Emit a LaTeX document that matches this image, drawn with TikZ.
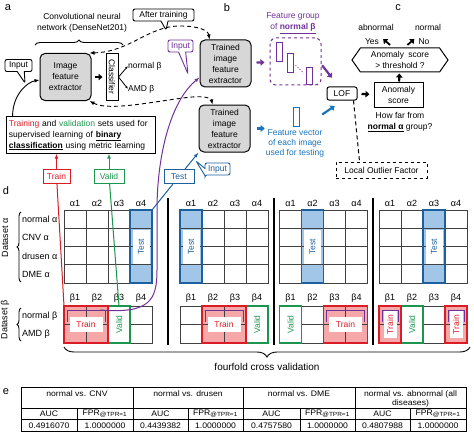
\documentclass[tikz,border=0pt]{standalone}
\usepackage{graphicx}
\usepackage{fontspec}
\setmainfont{Liberation Sans}
\newfontfamily\tabfont[FakeStretch=1.08]{Liberation Sans}
\usetikzlibrary{arrows.meta,decorations.pathreplacing,shapes.callouts,shapes.symbols}

\definecolor{trainred}{RGB}{218,28,38}
\definecolor{trainfill}{RGB}{246,168,168}
\definecolor{validgreen}{RGB}{28,150,78}
\definecolor{testblue}{RGB}{30,95,158}
\definecolor{testfill}{RGB}{162,198,232}
\definecolor{featpurple}{RGB}{112,50,152}
\definecolor{featblue}{RGB}{25,115,188}
\definecolor{boxgray}{RGB}{215,215,215}

\tikzset{
  txt/.style={font=\fontsize{8.5}{11}\selectfont, align=center, inner sep=0pt},
  small/.style={font=\fontsize{9}{11}\selectfont, inner sep=0pt},
  panel/.style={font=\fontsize{11}{13}\selectfont, inner sep=0pt},
  extractor/.style={txt, draw, rounded corners=5pt, fill=boxgray, line width=1pt, minimum width=51pt, minimum height=47pt},
  callbox/.style={txt, rectangle callout, draw, fill=white, rounded corners=2pt, line width=0.9pt, minimum height=12pt, inner xsep=2.5pt},
  fatarrow/.style={line width=2.2pt, -{Triangle[length=4pt,width=6.5pt]}, shorten <=#1, shorten >=#1},
  fatarrow/.default=3pt,
  dashlink/.style={line width=0.9pt, dash pattern=on 4pt off 3pt, {Latex[length=5pt,width=4pt]}-{Latex[length=5pt,width=4pt]}},
  curly/.style={decorate, decoration={brace, amplitude=#1}, line width=0.9pt},
  curly/.default=5pt,
  cellline/.style={draw=black!75, line width=0.6pt},
  tag/.style={txt, draw, fill=white, line width=0.9pt, minimum height=14pt},
  setlbl/.style={txt, fill=white},
  vec/.style={draw, line width=0.9pt, minimum width=6pt, minimum height=19pt, inner sep=0pt},
  tabtxt/.style={font=\tabfont\fontsize{8}{8.6}\selectfont, inner sep=0pt, align=center},
}

\begin{document}
\begin{tikzpicture}[x=1pt, y=1pt]
\useasboundingbox (0,0) rectangle (474,-444);

\node[panel] (pa) at (8,-8) {a};
\node[panel] (pb) at (227,-8) {b};
\node[panel] (pc) at (398,-8) {c};
\node[panel] (pd) at (6,-191) {d};
\node[panel] (pe) at (6,-392) {e};

\node[txt] (cnn) at (82,-23) {Convolutional neural\\network (DenseNet201)};
\draw[curly] (35,-45) -- (123,-45);

\node[extractor] (ife) at (65.5,-77) {Image\\feature\\extractor};
\node[txt, draw, line width=1pt, minimum width=12pt, minimum height=46pt] (cls) at (112,-77) {\rotatebox{-90}{Classifier}};
\draw[fatarrow] (ife) -- (cls);
\node[txt, anchor=west] (nb) at (128,-66) {normal β};
\node[txt, anchor=west] (amd) at (128,-89) {AMD β};
\draw[line width=0.8pt, -{Latex[length=3pt]}] (cls.east) -- (nb.west);
\draw[line width=0.8pt, -{Latex[length=3pt]}] (cls.east) -- (amd.west);

\node[extractor] (tfe1) at (225.5,-63.5) {Trained\\image\\feature\\extractor};
\node[extractor] (tfe2) at (224.5,-128.5) {Trained\\image\\feature\\extractor};

\node[callbox, callout absolute pointer={(166,-30)}, minimum width=61pt] (aft) at (163.5,-15) {After training};
\draw[dashlink] ([xshift=-2pt]ife.north east) .. controls (130,-52) and (148,-26) .. (180,-26) .. controls (198,-26) and (208,-30) .. ([xshift=10pt]tfe1.north west);
\draw[dashlink] ([xshift=-2pt]ife.south east) .. controls (110,-112) and (160,-100) .. (192,-97) .. controls (205,-96) and (211,-98) .. ([xshift=14pt]tfe2.north west);

\node[callbox, callout absolute pointer={(25,-83)}, minimum width=27pt] (in1) at (18.5,-65.5) {Input};
\node[txt, draw, line width=0.9pt, text width=143pt, align=left, inner sep=3pt, minimum height=36pt] (tbox) at (80.5,-135) {\textcolor{trainred}{Training} and \textcolor{validgreen}{validation} sets used for\\supervised learning of \underline{\textbf{binary}}\\\underline{\textbf{classification}} using metric learning};
\draw[line width=0.9pt, -{Latex[length=5pt]}] ([xshift=7pt]tbox.north west) .. controls +(0,22) and +(-12,-2) .. ([yshift=-3pt]ife.west);

\node[callbox, draw=featpurple, text=featpurple, callout absolute pointer={(188,-74)}, minimum width=25pt] (in2) at (180.5,-46) {Input};
\node[callbox, draw=testblue, text=testblue, callout absolute pointer={(196,-161)}, minimum width=25pt] (in3) at (217.5,-169) {Input};

\node[txt, text=featpurple] (fgl) at (293,-23) {Feature group\\of \underline{\textbf{normal β}}};
\node[draw=featpurple, dashed, line width=1pt, rounded corners=6pt, minimum width=51pt, minimum height=47pt, inner sep=0pt] (fg) at (295.5,-61.5) {};
\node[vec, draw=featpurple] (r1) at (279,-52) {};
\node[vec, draw=featpurple] (r2) at (290,-63) {};
\node[vec, draw=featpurple, minimum height=17pt] (r3) at (309.5,-75.5) {};
\draw[dotted, featpurple, line width=0.9pt, shorten <=3pt, shorten >=3pt] (r2.east) -- (r3.west);
\draw[fatarrow=5pt, featpurple] (tfe1) -- (fg);

\node[txt, draw, line width=1pt, rounded corners=2pt, minimum width=30pt, minimum height=13pt] (lof) at (342,-93.5) {LOF};
\draw[fatarrow=1pt, featpurple] ([yshift=-3pt]fg.east) -- ([xshift=6pt,yshift=8pt]lof.north west);

\node[txt, draw, line width=1pt, minimum width=49pt, minimum height=24pt] (scr) at (398.5,-95) {Anomaly\\score};
\draw[fatarrow=4pt] (lof) -- (scr);
\node[txt] (hf) at (400,-122) {How far from\\\underline{\textbf{normal α}} group?};
\node[txt, draw, line width=1pt, signal, signal to=east and west, signal pointer angle=110, minimum width=96pt, minimum height=24pt] (thr) at (400,-60) {Anomaly\enspace score\\> threshold ?};
\draw[fatarrow=1pt] (scr) -- (thr);
\node[txt] (abn) at (376,-27) {abnormal};
\node[txt] (nrm) at (428,-27) {normal};
\node[txt] (yes) at (372,-42) {Yes};
\node[txt] (no) at (424,-42) {No};
\draw[fatarrow=0pt, line width=1.8pt] ([xshift=11pt,yshift=-3pt]yes.east) -- ([xshift=4pt,yshift=3pt]yes.east);
\draw[fatarrow=0pt, line width=1.8pt] ([xshift=-11pt,yshift=-3pt]no.west) -- ([xshift=-4pt,yshift=3pt]no.west);

\node[vec, draw=featblue] (fv) at (296,-117) {};
\node[txt, text=featblue, font=\fontsize{8.5}{10}\selectfont] (fvl) at (295,-143) {Feature vector\\of each image\\used for testing};
\draw[fatarrow, featblue, shorten <=6pt, shorten >=1pt] (tfe2.east) -- (tfe2.east -| fvl.west);
\draw[fatarrow=1pt, featblue] ([xshift=22pt,yshift=2pt]fv.east) -- ([xshift=9pt,yshift=-5pt]lof.south west);

\node[txt, draw, dashed, line width=1pt, minimum width=91pt, minimum height=16pt] (lofl) at (381.5,-170) {Local Outlier Factor};
\draw[line width=1pt, dash pattern=on 4pt off 3pt] ([xshift=-4pt]lof.south east) -- ([xshift=-22pt]lofl.north);

\node[tag, draw=trainred, text=trainred, minimum width=27pt] (trn) at (56.5,-176) {Train};
\node[tag, draw=validgreen, text=validgreen, minimum width=30pt] (vld) at (109,-176) {Valid};
\node[tag, draw=testblue, text=testblue, minimum width=30pt] (tst) at (179,-176.5) {Test};

\node[small, anchor=west] (la1) at (22,-219) {normal α};
\node[small, anchor=west] (la2) at (22,-237) {CNV α};
\node[small, anchor=west] (la3) at (22,-256) {drusen α};
\node[small, anchor=west] (la4) at (22,-274) {DME α};
\node[small, anchor=west] (lb1) at (22,-316) {normal β};
\node[small, anchor=west] (lb2) at (22,-334) {AMD β};
\draw[curly=4pt] (21,-282) -- (21,-212);
\draw[curly=4pt] (21,-341) -- (21,-308);
\node[small, rotate=90] (dsa) at (5,-238) {Dataset α};
\node[small, rotate=90] (dsb) at (5,-320) {Dataset β};

\foreach \X/\tc/\vc/\trs [count=\f] in {64/4/3/{1/2}, 180/1/4/{2/3}, 279.5/2/1/{3/4}, 379/3/2/{1/1,4/4}}{
  \fill[testfill] (\X+22*\tc-22,-210) rectangle ++(22,-73);
  \foreach \a/\b in \trs
    \fill[trainfill] (\X+22*\a-22,-306) rectangle (\X+22*\b,-343);
  \foreach \k in {1,2,3,4}{
    \node[small] (ha\f\k) at (\X+22*\k-11,-203) {α\k};
    \node[small] (hb\f\k) at (\X+22*\k-11,-298) {β\k};
  }
  \draw[cellline] (\X,-210) rectangle ++(88,-73);
  \draw[cellline] (\X,-306) rectangle ++(88,-37);
  \foreach \k in {1,2,3}{
    \draw[cellline] (\X+22*\k,-210) -- ++(0,-73);
    \draw[cellline] (\X+22*\k,-306) -- ++(0,-37);
    \draw[cellline] (\X,-210-18.25*\k) -- ++(88,0);
  }
  \draw[cellline] (\X,-324.5) -- ++(88,0);
  \node[setlbl, text=testblue, minimum width=17pt, minimum height=34pt] (te\f) at (\X+22*\tc-11,-246.5) {\rotatebox{90}{Test}};
  \draw[testblue, line width=1.6pt] (\X+22*\tc-22,-210) rectangle ++(22,-73);
  \coordinate (tetop\f) at (\X+22*\tc,-210);
  \node[setlbl, draw=validgreen, text=validgreen, line width=1.6pt, minimum width=22pt, minimum height=37pt] (va\f) at (\X+22*\vc-11,-324.5) {\rotatebox{90}{Valid}};
  \coordinate (vatop\f) at (\X+22*\vc-11,-306);
  \foreach \a/\b in \trs{
    \draw[featpurple, line width=1pt] (\X+22*\a-19,-322) -- (\X+22*\a-19,-310) -- (\X+22*\b-3,-310) -- (\X+22*\b-3,-322);
    \ifnum\a=\b\relax
      \node[setlbl, text=trainred, minimum width=13pt, minimum height=27pt] (tr\f\a) at (\X+22*\a-11,-324.5) {\rotatebox{90}{Train}};
    \else
      \node[setlbl, text=trainred, minimum width=33pt, minimum height=15pt] (tr\f\a) at (\X+11*\a+11*\b-11,-324.5) {Train};
    \fi
    \draw[trainred, line width=1.6pt] (\X+22*\a-22,-306) rectangle (\X+22*\b,-343);
    \coordinate (trtop\f\a) at (\X+22*\a-22,-306);
    \coordinate (grp\f\a) at (\X+22*\b-8,-310);
  }
}
\foreach \s in {168,274,373}
  \draw[line width=1.5pt] (\s,-198) -- (\s,-345);

\draw[trainred, line width=1pt] (trtop11) -- (trn);
\draw[trainred, line width=1pt, -{Latex[length=5pt]}] (trn) -- (trn |- tbox.south);
\draw[validgreen, line width=1pt] (vatop1) -- (vld);
\draw[validgreen, line width=1pt, -{Latex[length=5pt]}] (vld) -- (vld |- tbox.south);
\draw[testblue, line width=1pt] (tetop1) -- (tst);
\draw[testblue, line width=1pt, -{Latex[length=5pt]}] (tst) -- (tfe2.south west);
\draw[featpurple, line width=1pt, -{Latex[length=5pt]}] (grp11) .. controls (150,-314) and (157,-300) .. (157,-270) -- (157,-205) .. controls (158,-150) and (172,-100) .. ([yshift=-14pt]tfe1.west);

\draw[curly=10pt] (470,-347) -- (64,-347);
\node[txt, font=\fontsize{10}{12}\selectfont] (ffcv) at (267,-367) {fourfold cross validation};

\draw[line width=1pt] (21,-387) rectangle (466,-431);
\draw[line width=0.5pt] (21,-408) -- (466,-408) (21,-419.5) -- (466,-419.5);
\foreach \l/\m/\r/\auc/\hd [count=\k] in {21/77/133/0.4916070/{normal vs. CNV}, 133/188/243/0.4439382/{normal vs. drusen}, 243/300/355/0.4757580/{normal vs. DME}, 355/410/466/0.4807988/{normal vs. abnormal (all\\diseases)}}{
  \draw[line width=0.5pt] (\m,-408) -- (\m,-431);
  \draw[line width=0.5pt] (\r,-387) -- (\r,-431);
  \node[tabtxt, anchor=north] (th\k) at ({(\l+\r)/2},-390.5) {\hd};
  \node[tabtxt] (tau\k) at ({(\l+\m)/2},-413.7) {AUC};
  \node[tabtxt] (tfp\k) at ({(\m+\r)/2},-413.7) {FPR\textsubscript{@TPR=1}};
  \node[tabtxt] (tva\k) at ({(\l+\m)/2},-425.3) {\auc};
  \node[tabtxt] (tvf\k) at ({(\m+\r)/2},-425.3) {1.0000000};
}
\end{tikzpicture}
\end{document}
